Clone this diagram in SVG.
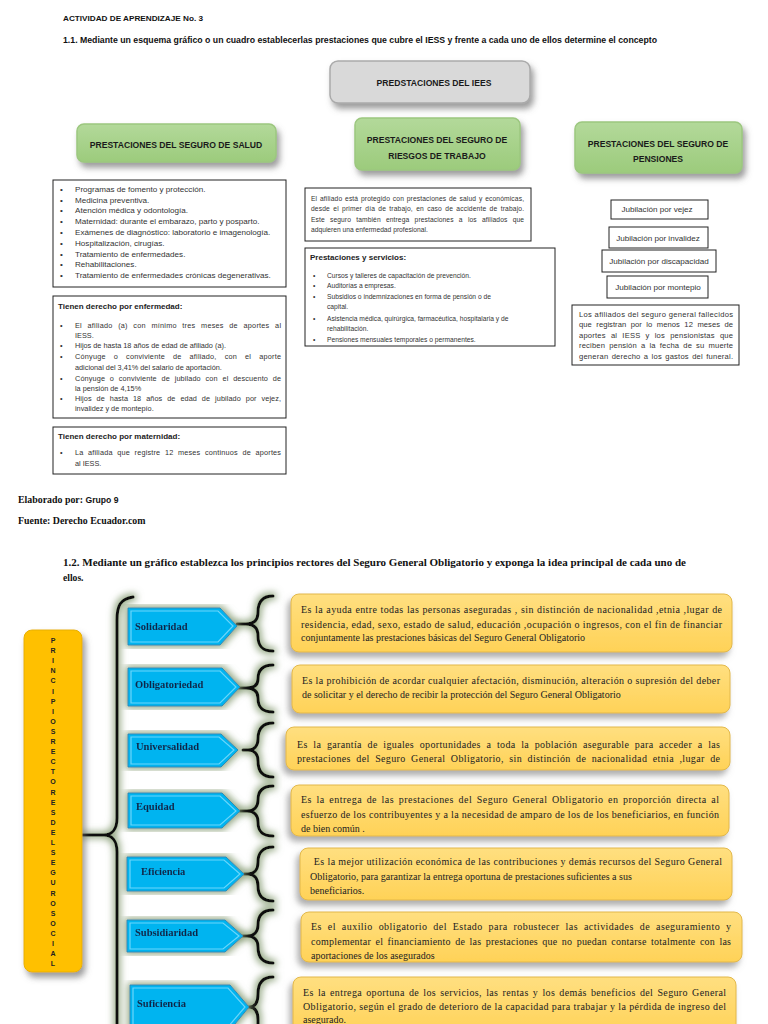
<svg xmlns="http://www.w3.org/2000/svg" width="768" height="1024" viewBox="0 0 768 1024">
<defs>
<style>
.hd{font-family:"Liberation Sans",Arial,sans-serif;font-weight:bold;fill:#111}
.sm{font-family:"Liberation Sans",Arial,sans-serif;font-size:7.3px;fill:#333}
.s8{font-family:"Liberation Sans",Arial,sans-serif;font-size:8.1px;fill:#333}
.s6{font-family:"Liberation Sans",Arial,sans-serif;font-size:6.7px;fill:#333}
.s7{font-family:"Liberation Sans",Arial,sans-serif;font-size:7.6px;fill:#333}
.smb{font-family:"Liberation Sans",Arial,sans-serif;font-size:8px;font-weight:bold;fill:#222}
.tb{font-family:"Liberation Serif","Times New Roman",serif;font-weight:bold;fill:#111}
.yt{font-family:"Liberation Serif","Times New Roman",serif;font-size:10px;fill:#222}
.bl{font-family:"Liberation Serif","Times New Roman",serif;font-size:10.5px;font-weight:bold;fill:#10284a}
.gh{font-family:"Liberation Sans",Arial,sans-serif;font-size:8.6px;font-weight:bold;fill:#1a1a1a;text-anchor:middle}
.box{fill:#fff;stroke:#222;stroke-width:1}
.green{fill:url(#gg);stroke:#9cc77f;stroke-width:1.5}
.yel{fill:url(#yg);stroke:#e2b84a;stroke-width:1}
.arr{fill:#00b4f0;stroke:#2b8cb8;stroke-width:1}
.bev{fill:none;stroke:#6ad6fb;stroke-width:1.2}
.br{fill:none;stroke:#111;stroke-width:3;stroke-linecap:round}
.lt{font-family:"Liberation Sans",Arial,sans-serif;font-size:7px;font-weight:bold;fill:#222;text-anchor:middle}
</style>
<linearGradient id="gg" x1="0" y1="0" x2="0" y2="1"><stop offset="0" stop-color="#b3d99a"/><stop offset="1" stop-color="#9ccb7c"/></linearGradient>
<linearGradient id="yg" x1="0" y1="0" x2="0" y2="1"><stop offset="0" stop-color="#ffdf80"/><stop offset="1" stop-color="#ffd257"/></linearGradient>
<filter id="sh" x="-20%" y="-30%" width="150%" height="180%"><feDropShadow dx="3" dy="5" stdDeviation="3" flood-color="#666" flood-opacity="0.65"/></filter>
<filter id="shl" x="-20%" y="-30%" width="150%" height="180%"><feDropShadow dx="-3" dy="5" stdDeviation="3" flood-color="#777" flood-opacity="0.6"/></filter>
<filter id="glow" x="-30%" y="-10%" width="160%" height="120%"><feMorphology in="SourceAlpha" operator="dilate" radius="2" result="d"/><feGaussianBlur in="d" stdDeviation="3.5" result="b"/><feFlood flood-color="#8a9f78" flood-opacity="0.9"/><feComposite in2="b" operator="in" result="g"/><feMerge><feMergeNode in="g"/><feMergeNode in="SourceGraphic"/></feMerge></filter>
</defs>
<rect width="768" height="1024" fill="#fff"/>

<g id="header">
<text class="hd" x="63" y="21" font-size="7.6" textLength="140" lengthAdjust="spacingAndGlyphs">ACTIVIDAD DE APRENDIZAJE No. 3</text>
<text class="hd" x="63" y="43" font-size="8.6" textLength="594" lengthAdjust="spacingAndGlyphs">1.1. Mediante un esquema gráfico o un cuadro establecerlas prestaciones que cubre el IESS y frente a cada uno de ellos determine el concepto</text>
</g>

<g id="root">
<rect x="330" y="61" width="200" height="42" rx="8" fill="#d9d9d9" stroke="#aaa" stroke-width="1.5" filter="url(#sh)"/>
<text class="gh" x="434" y="86" font-size="8.6">PREDSTACIONES DEL IEES</text>
</g>

<g id="salud">
<rect class="green" x="77" y="124" width="199" height="38" rx="7" filter="url(#sh)"/>
<text class="gh" x="176" y="148" font-size="8.6">PRESTACIONES DEL SEGURO DE SALUD</text>
</g>
<g id="riesgos">
<rect class="green" x="355" y="118" width="165" height="52" rx="7" filter="url(#sh)"/>
<text class="gh" x="437" y="143">PRESTACIONES DEL SEGURO DE</text>
<text class="gh" x="437" y="159">RIESGOS  DE TRABAJO</text>
</g>
<g id="pensiones">
<rect class="green" x="575" y="122" width="167" height="51" rx="7" filter="url(#sh)"/>
<text class="gh" x="658" y="147">PRESTACIONES DEL SEGURO DE</text>
<text class="gh" x="658" y="162">PENSIONES</text>
</g>

<g id="salud-list">
<rect class="box" x="53" y="180" width="233" height="107"/>
<g class="s8">
<text x="60" y="191.8">•</text><text x="75" y="191.8">Programas de fomento y protección.</text>
<text x="60" y="202.6">•</text><text x="75" y="202.6">Medicina preventiva.</text>
<text x="60" y="213.4">•</text><text x="75" y="213.4">Atención médica y odontología.</text>
<text x="60" y="224.2">•</text><text x="75" y="224.2">Maternidad: durante el embarazo, parto y posparto.</text>
<text x="60" y="235">•</text><text x="75" y="235">Exámenes de diagnóstico: laboratorio e imagenología.</text>
<text x="60" y="245.8">•</text><text x="75" y="245.8">Hospitalización, cirugías.</text>
<text x="60" y="256.6">•</text><text x="75" y="256.6">Tratamiento de enfermedades.</text>
<text x="60" y="267.4">•</text><text x="75" y="267.4">Rehabilitaciones.</text>
<text x="60" y="278.2">•</text><text x="75" y="278.2">Tratamiento de enfermedades crónicas degenerativas.</text>
</g>
</g>

<g id="enfermedad">
<rect class="box" x="53" y="296" width="233" height="122"/>
<text class="smb" x="58" y="309">Tienen derecho por enfermedad:</text>
<g class="sm">
<text x="60" y="327.5">•</text><text x="75" y="327.5" word-spacing="3.4" textLength="206" lengthAdjust="spacing">El afiliado (a) con mínimo tres meses de aportes al</text>
<text x="75" y="337.5">IESS.</text>
<text x="60" y="347.5">•</text><text x="75" y="347.5">Hijos de hasta 18 años de edad de afiliado (a).</text>
<text x="60" y="358.5">•</text><text x="75" y="358.5" word-spacing="5.8" textLength="206" lengthAdjust="spacing">Cónyuge o conviviente de afiliado, con el aporte</text>
<text x="75" y="369.5">adicional del 3,41% del salario de aportación.</text>
<text x="60" y="380.5">•</text><text x="75" y="380.5" word-spacing="2.6" textLength="206" lengthAdjust="spacing">Cónyuge o conviviente de jubilado con el descuento de</text>
<text x="75" y="390.5">la pensión de 4,15%</text>
<text x="60" y="400.5">•</text><text x="75" y="400.5" word-spacing="2.8" textLength="206" lengthAdjust="spacing">Hijos de hasta 18 años de edad de jubilado por vejez,</text>
<text x="75" y="410.5">invalidez y de montepío.</text>
</g>
</g>

<g id="maternidad">
<rect class="box" x="53" y="427" width="233" height="47"/>
<text class="smb" x="58" y="439">Tienen derecho por maternidad:</text>
<g class="sm">
<text x="60" y="454.5">•</text><text x="75" y="454.5" word-spacing="2.4" textLength="206" lengthAdjust="spacing">La afiliada que registre 12 meses continuos de aportes</text>
<text x="75" y="465.5">al IESS.</text>
</g>
</g>

<g id="riesgos-texto">
<rect class="box" x="305" y="188" width="226" height="53"/>
<g class="s6">
<text x="311" y="200.5" word-spacing="0.8" textLength="213" lengthAdjust="spacing">El afiliado está protegido con prestaciones de salud y económicas,</text>
<text x="311" y="211" word-spacing="1.3" textLength="213" lengthAdjust="spacing">desde el primer día de trabajo, en caso de accidente de trabajo.</text>
<text x="311" y="221.5" word-spacing="3.3" textLength="213" lengthAdjust="spacing">Este seguro también entrega prestaciones a los afiliados que</text>
<text x="311" y="231.5">adquieren una enfermedad profesional.</text>
</g>
</g>

<g id="riesgos-servicios">
<rect class="box" x="305" y="248" width="250" height="98"/>
<text class="smb" x="310" y="260">Prestaciones y servicios:</text>
<g class="s6">
<text x="313" y="277.5">•</text><text x="327" y="277.5">Cursos y talleres de capacitación de prevención.</text>
<text x="313" y="287.5">•</text><text x="327" y="287.5">Auditorías a empresas.</text>
<text x="313" y="298.5">•</text><text x="327" y="298.5">Subsidios o indemnizaciones en forma de pensión o de</text>
<text x="327" y="308.5">capital.</text>
<text x="313" y="320.5">•</text><text x="327" y="320.5">Asistencia médica, quirúrgica, farmacéutica, hospitalaria y de</text>
<text x="327" y="330.5">rehabilitación.</text>
<text x="313" y="341.5">•</text><text x="327" y="341.5">Pensiones mensuales temporales o permanentes.</text>
</g>
</g>

<g id="jub-vejez"><rect class="box" x="611" y="200" width="97" height="19"/><text class="s8" x="657" y="212" text-anchor="middle">Jubilación por vejez</text></g>
<g id="jub-invalidez"><rect class="box" x="609" y="227" width="99" height="21"/><text class="s8" x="658" y="240.5" text-anchor="middle">Jubilación por invalidez</text></g>
<g id="jub-discapacidad"><rect class="box" x="602" y="250" width="114" height="22"/><text class="s8" x="659" y="263.5" text-anchor="middle">Jubilación por discapacidad</text></g>
<g id="jub-montepio"><rect class="box" x="607" y="276" width="101" height="22"/><text class="s8" x="658" y="289.5" text-anchor="middle">Jubilación por montepio</text></g>
<g id="funeral">
<rect class="box" x="572" y="305" width="167" height="60"/>
<g class="s7">
<text x="579" y="316.5" textLength="154" lengthAdjust="spacing">Los afiliados del seguro general fallecidos</text>
<text x="579" y="327" word-spacing="2.4" textLength="154" lengthAdjust="spacing">que registran por lo menos 12 meses de</text>
<text x="579" y="337.5" word-spacing="2.8" textLength="154" lengthAdjust="spacing">aportes al IESS y los pensionistas que</text>
<text x="579" y="348" word-spacing="1.8" textLength="154" lengthAdjust="spacing">reciben pensión a la fecha de su muerte</text>
<text x="579" y="358.5" word-spacing="1" textLength="154" lengthAdjust="spacing">generan derecho a los gastos del funeral.</text>
</g>
</g>

<g id="credits">
<text class="tb" x="18" y="503" font-size="9.9">Elaborado por: <tspan font-family="Liberation Sans,Arial,sans-serif" font-size="8.6">Grupo 9</tspan></text>
<text class="tb" x="18" y="524" font-size="9.9">Fuente: Derecho Ecuador.com</text>
<text class="tb" x="63" y="566" font-size="9.6" textLength="623" lengthAdjust="spacingAndGlyphs">1.2. Mediante un gráfico establezca los principios rectores del Seguro General Obligatorio y exponga la idea principal de cada uno de</text>
<text class="tb" x="63" y="581" font-size="9.6">ellos.</text>
</g>

<g id="connectors" filter="url(#glow)">
<path class="br" d="M133,597 C120,599 117,606 117,620 L117,818 C117,829 112,835 104,835 L82,835 M104,835 C112,835 117,841 117,852 L117,1030"/>
<path class="br" d="M273,596 C262,596 258,602 258,612 C258,620 254,624 246,624 L237,624 M246,624 C254,624 258,628 258,636 C258,646 262,651 273,651"/>
<path class="br" d="M273,665 C262,665 258,671 258,679 C258,685 254,688 246,688 L236,688 M246,688 C254,688 258,691 258,698 C258,707 262,712 273,712"/>
<path class="br" d="M273,723 C262,723 258,730 258,739 C258,746 254,750 248,750 L243,750 M248,750 C254,750 258,754 258,761 C258,771 262,777 273,777"/>
<path class="br" d="M273,786 C262,786 258,792 258,800 C258,807 254,811 247,811 L240,811 M247,811 C254,811 258,815 258,822 C258,831 262,836 273,836"/>
<path class="br" d="M273,847 C262,847 258,854 258,862 C258,870 254,874 248,874 L244,874 M248,874 C254,874 258,878 258,886 C258,895 262,901 273,901"/>
<path class="br" d="M273,910 C262,910 258,916 258,925 C258,932 254,936 247,936 L236,936 M247,936 C254,936 258,940 258,947 C258,957 262,963 273,963"/>
<path class="br" d="M273,977 C262,977 258,984 258,994 C258,1002 255,1007 249,1007 L246,1007 M249,1007 C255,1007 258,1012 258,1020 L258,1030"/>
</g>

<g id="principios">
<rect x="24" y="630" width="58" height="342" rx="8" fill="#ffc000" stroke="#e8b000" filter="url(#sh)"/>
<g class="lt">
<text x="53" y="643">P</text><text x="53" y="653.1">R</text><text x="53" y="663.2">I</text><text x="53" y="673.3">N</text><text x="53" y="683.4">C</text><text x="53" y="693.5">I</text><text x="53" y="703.6">P</text><text x="53" y="713.7">I</text><text x="53" y="723.8">O</text><text x="53" y="733.9">S</text><text x="53" y="744">R</text><text x="53" y="754.1">E</text><text x="53" y="764.2">C</text><text x="53" y="774.3">T</text><text x="53" y="784.4">O</text><text x="53" y="794.5">R</text><text x="53" y="804.6">E</text><text x="53" y="814.7">S</text><text x="53" y="824.8">D</text><text x="53" y="834.9">E</text><text x="53" y="845">L</text><text x="53" y="855.1">S</text><text x="53" y="865.2">E</text><text x="53" y="875.3">G</text><text x="53" y="885.4">U</text><text x="53" y="895.5">R</text><text x="53" y="905.6">O</text><text x="53" y="915.7">S</text><text x="53" y="925.8">O</text><text x="53" y="935.9">C</text><text x="53" y="946">I</text><text x="53" y="956.1">A</text><text x="53" y="966.2">L</text>
</g>
</g>

<g id="solidaridad" filter="url(#glow)">
<polygon class="arr" points="128,608 220,608 237,626 220,645 128,645"/>
<polygon class="bev" points="131,611 218,611 233,626 218,642 131,642"/>
<text class="bl" x="135" y="630">Solidaridad</text>
</g>
<g id="obligatoriedad" filter="url(#glow)">
<polygon class="arr" points="128,668 222,668 240,687 222,706 128,706"/>
<polygon class="bev" points="131,671 220,671 236,687 220,703 131,703"/>
<text class="bl" x="135" y="688" font-weight="normal">Obligatoriedad</text>
</g>
<g id="universalidad" filter="url(#glow)">
<polygon class="arr" points="128,734 221,734 238,750 221,767 128,767"/>
<polygon class="bev" points="131,737 219,737 234,750 219,764 131,764"/>
<text class="bl" x="136" y="750">Universalidad</text>
</g>
<g id="equidad" filter="url(#glow)">
<polygon class="arr" points="128,793 222,793 240,811 222,828 128,828"/>
<polygon class="bev" points="131,796 220,796 236,811 220,825 131,825"/>
<text class="bl" x="136" y="810">Equidad</text>
</g>
<g id="eficiencia" filter="url(#glow)">
<polygon class="arr" points="127,857 226,857 244,874 226,891 127,891"/>
<polygon class="bev" points="130,860 224,860 240,874 224,888 130,888"/>
<text class="bl" x="141" y="875">Eficiencia</text>
</g>
<g id="subsidiaridad" filter="url(#glow)">
<polygon class="arr" points="127,920 225,920 243,936 225,952 127,952"/>
<polygon class="bev" points="130,923 223,923 239,936 223,949 130,949"/>
<text class="bl" x="135" y="936">Subsidiaridad</text>
</g>
<g id="suficiencia" filter="url(#glow)">
<polygon class="arr" points="130,985 230,985 249,1007 230,1030 130,1030"/>
<polygon class="bev" points="133,988 228,988 245,1007 228,1027 133,1027"/>
<text class="bl" x="137" y="1007">Suficiencia</text>
</g>

<g id="d-solidaridad">
<rect class="yel" x="291" y="594" width="441" height="58" rx="8" filter="url(#shl)"/>
<text class="yt" x="301" y="613" word-spacing="0.4" textLength="421" lengthAdjust="spacing">Es la ayuda entre todas las personas aseguradas , sin distinción de nacionalidad ,etnia ,lugar de</text>
<text class="yt" x="301" y="627.5" textLength="421" lengthAdjust="spacing">residencia, edad, sexo, estado de salud, educación ,ocupación o ingresos, con el fin de financiar</text>
<text class="yt" x="301" y="641">conjuntamente las prestaciones básicas del Seguro General Obligatorio</text>
</g>
<g id="d-obligatoriedad">
<rect class="yel" x="292" y="665" width="438" height="48" rx="8" filter="url(#shl)"/>
<text class="yt" x="302" y="684" textLength="418" lengthAdjust="spacing">Es la prohibición de acordar cualquier afectación, disminución, alteración o supresión del deber</text>
<text class="yt" x="302" y="698">de solicitar y el derecho de recibir la protección del Seguro General Obligatorio</text>
</g>
<g id="d-universalidad">
<rect class="yel" x="286" y="727" width="444" height="43" rx="8" filter="url(#shl)"/>
<text class="yt" x="297" y="748" word-spacing="2.8" textLength="423" lengthAdjust="spacing">Es la garantía de iguales oportunidades a toda la población asegurable para acceder a las</text>
<text class="yt" x="297" y="762" word-spacing="2.6" textLength="423" lengthAdjust="spacing">prestaciones del Seguro General Obligatorio, sin distinción de nacionalidad etnia ,lugar de</text>
</g>
<g id="d-equidad">
<rect class="yel" x="291" y="785" width="438" height="51" rx="8" filter="url(#shl)"/>
<text class="yt" x="301" y="803" word-spacing="1.6" textLength="418" lengthAdjust="spacing">Es la entrega de las  prestaciones del Seguro General Obligatorio en proporción directa al</text>
<text class="yt" x="301" y="818" textLength="418" lengthAdjust="spacing">esfuerzo de los contribuyentes y a la necesidad de amparo de los de los beneficiarios, en función</text>
<text class="yt" x="301" y="832">de bien común .</text>
</g>
<g id="d-eficiencia">
<rect class="yel" x="300" y="848" width="432" height="52" rx="8" filter="url(#shl)"/>
<text class="yt" x="311" y="865" textLength="411" lengthAdjust="spacing" xml:space="preserve"> Es la mejor utilización económica de las contribuciones y demás recursos del Seguro General</text>
<text class="yt" x="310" y="880">Obligatorio, para garantizar la entrega oportuna de prestaciones suficientes a sus</text>
<text class="yt" x="310" y="894">beneficiarios.</text>
</g>
<g id="d-subsidiaridad">
<rect class="yel" x="301" y="912" width="441" height="50" rx="8" filter="url(#shl)"/>
<text class="yt" x="311" y="930" word-spacing="3" textLength="420" lengthAdjust="spacing">Es el auxilio obligatorio del  Estado para robustecer las actividades de aseguramiento y</text>
<text class="yt" x="311" y="945" word-spacing="1.6" textLength="420" lengthAdjust="spacing">complementar el financiamiento de las prestaciones que no puedan contarse totalmente con las</text>
<text class="yt" x="311" y="959">aportaciones de los asegurados</text>
</g>
<g id="d-suficiencia">
<rect class="yel" x="293" y="977" width="443" height="60" rx="8" filter="url(#shl)"/>
<text class="yt" x="303" y="996" word-spacing="1.3" textLength="423" lengthAdjust="spacing">Es la entrega oportuna de los servicios, las rentas y los demás beneficios del Seguro General</text>
<text class="yt" x="303" y="1010" textLength="423" lengthAdjust="spacing">Obligatorio, según el grado de deterioro de la capacidad para trabajar y la pérdida de ingreso del</text>
<text class="yt" x="303" y="1023">asegurado.</text>
</g>
</svg>
